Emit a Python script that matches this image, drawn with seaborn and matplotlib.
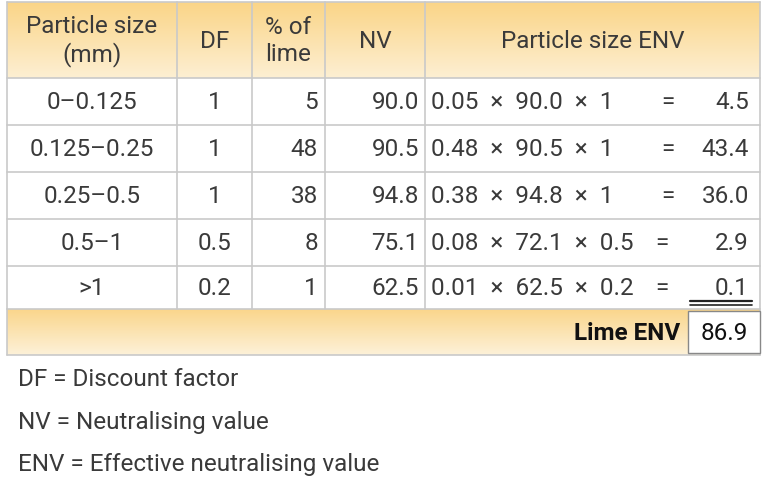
import matplotlib
matplotlib.use("Agg")
import matplotlib.pyplot as plt
import seaborn as sns
import numpy as np

sns.set_style("white")
plt.rcParams['font.family'] = ['Roboto', 'DejaVu Sans']

headers = ["Particle size\n(mm)", "DF", "% of\nlime", "NV", "Particle size ENV"]
sizes = ["0\u20130.125", "0.125\u20130.25", "0.25\u20130.5", "0.5\u20131", ">1"]
df_vals = ["1", "1", "1", "0.5", "0.2"]
lime_pct = ["5", "48", "38", "8", "1"]
nv_vals = ["90.0", "90.5", "94.8", "75.1", "62.5"]
env_exprs = ["0.05  \u00d7  90.0  \u00d7  1", "0.48  \u00d7  90.5  \u00d7  1", "0.38  \u00d7  94.8  \u00d7  1",
             "0.08  \u00d7  72.1  \u00d7  0.5", "0.01  \u00d7  62.5  \u00d7  0.2"]
eq_x = [668, 668, 668, 662, 662]
env_vals = ["4.5", "43.4", "36.0", "2.9", "0.1"]
total_label = "Lime ENV"
total_val = "86.9"
notes = ["DF = Discount factor", "NV = Neutralising value", "ENV = Effective neutralising value"]

fig = plt.figure(figsize=(7.68, 4.88), dpi=100)
ax = fig.add_axes([0, 0, 1, 1])
ax.set_xlim(0, 768); ax.set_ylim(488, 0); ax.axis("off")

cols = [7, 177, 252, 325, 425, 760]
rows = [2, 78, 125, 172, 219, 266, 309, 355]
tc = "#3a3a3a"; lc = "#c9c9c9"; fs = 17.5

grad = np.linspace(0, 1, 50).reshape(-1, 1)
cmap = matplotlib.colors.LinearSegmentedColormap.from_list("g", ["#fad588", "#fdefd2"])
ax.imshow(grad, cmap=cmap, extent=(cols[0], cols[-1], rows[1], rows[0]), aspect="auto", zorder=0)
cmap2 = matplotlib.colors.LinearSegmentedColormap.from_list("g2", ["#fad68c", "#fdf1d8"])
ax.imshow(grad, cmap=cmap2, extent=(cols[0], cols[-1], rows[7], rows[6]), aspect="auto", zorder=0)
ax.add_patch(plt.Rectangle((688, rows[6] + 2), 72, rows[7] - rows[6] - 4, fc="white", ec="#888", lw=1, zorder=2))

for y in rows[:7]:
    ax.plot([cols[0], cols[-1]], [y, y], color=lc, lw=1.2, zorder=1)
ax.plot([cols[0], cols[-1]], [rows[7], rows[7]], color=lc, lw=1.2, zorder=1)
for x in cols:
    ax.plot([x, x], [rows[0], rows[6]], color=lc, lw=1.2, zorder=1)
for x in (cols[0], cols[-1]):
    ax.plot([x, x], [rows[6], rows[7]], color=lc, lw=1.2, zorder=1)

centers = [(cols[i] + cols[i + 1]) / 2 for i in range(5)]
for i, h in enumerate(headers):
    ax.text(centers[i], (rows[0] + rows[1]) / 2 + 1, h, ha="center", va="center", fontsize=fs, color=tc, linespacing=1.2)

for r in range(5):
    yc = (rows[r + 1] + rows[r + 2]) / 2 + 1
    ax.text(centers[0], yc, sizes[r], ha="center", va="center", fontsize=fs, color=tc)
    ax.text(centers[1], yc, df_vals[r], ha="center", va="center", fontsize=fs, color=tc)
    ax.text(318, yc, lime_pct[r], ha="right", va="center", fontsize=fs, color=tc)
    ax.text(419, yc, nv_vals[r], ha="right", va="center", fontsize=fs, color=tc)
    ax.text(431, yc, env_exprs[r], ha="left", va="center", fontsize=fs, color=tc)
    ax.text(eq_x[r], yc, "=", ha="center", va="center", fontsize=fs, color=tc)
    ax.text(749, yc, env_vals[r], ha="right", va="center", fontsize=fs, color=tc)

ax.plot([690, 752], [301, 301], color="#222", lw=1.6, zorder=3)
ax.plot([690, 752], [305, 305], color="#222", lw=1.2, zorder=3)

yf = (rows[6] + rows[7]) / 2 + 1
ax.text(680, yf, total_label, ha="right", va="center", fontsize=fs, color="#111", fontweight="bold")
ax.text(724, yf, total_val, ha="center", va="center", fontsize=fs, color="#111", zorder=3)

for i, n in enumerate(notes):
    ax.text(18, 380 + 42 * i, n, ha="left", va="center", fontsize=fs, color=tc)

fig.savefig("out.png", dpi=100)
